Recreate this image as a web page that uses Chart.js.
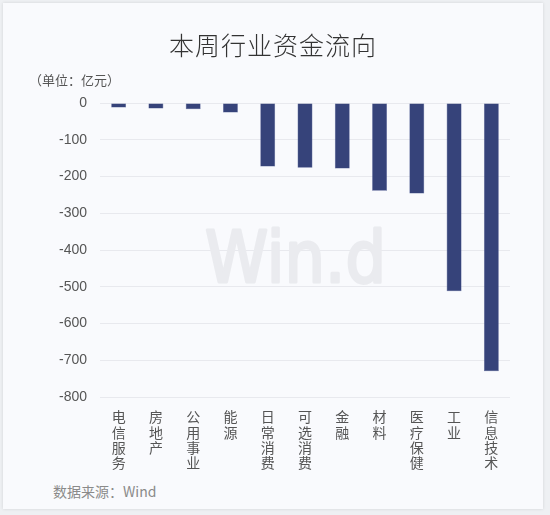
<!DOCTYPE html>
<html>
<head>
<meta charset="utf-8">
<script src="https://cdn.jsdelivr.net/npm/chart.js@4.4.1/dist/chart.umd.min.js"></script>
<style>
  body { margin: 0; background: #eef0f3; }
  #panel {
    position: absolute; left: 3px; top: 3px; width: 540px; height: 506px;
    background: #f9fafd; box-shadow: 0 0 3px rgba(0,0,0,0.12);
    font-family: "Liberation Sans", "Noto Sans CJK SC", sans-serif;
  }
  #title {
    position: absolute; left: 0; width: 540px; top: 23px; text-align: center;
    font-family: "Noto Sans CJK SC", sans-serif; font-size: 25px; color: #333;
    font-weight: 300; letter-spacing: 1px;
  }
  #unit {
    position: absolute; left: 26px; top: 67px; font-size: 13px; color: #555;
    font-family: "Noto Sans CJK SC", sans-serif;
  }
  #source {
    position: absolute; left: 50px; top: 478px; font-size: 14px; color: #8a8a8a;
    font-family: "Noto Sans CJK SC", sans-serif;
  }
  #box { position: absolute; left: -3px; top: -3px; width: 543px; height: 480px; }
</style>
</head>
<body>
<div id="panel">
  <div id="box"><canvas id="flowChart"></canvas></div>
  <div id="title">本周行业资金流向</div>
  <div id="unit">（单位：亿元）</div>
  <div id="source">数据来源：Wind</div>
</div>
<script>
// ===============================
// DATA
// ===============================
const industries = ["电信服务", "房地产", "公用事业", "能源", "日常消费", "可选消费", "金融", "材料", "医疗保健", "工业", "信息技术"];
const flowValues = [-12, -15, -17, -26, -173, -176, -178, -239, -246, -512, -730];
const yTicks = [0, -100, -200, -300, -400, -500, -600, -700, -800];

const FONT = "'Liberation Sans', 'Noto Sans CJK SC', sans-serif";

// watermark behind the bars
const watermark = {
  id: "watermark",
  beforeDatasetsDraw(chart) {
    const ctx = chart.ctx;
    ctx.save();
    ctx.font = "72px 'DejaVu Sans', sans-serif";
    const w = ctx.measureText("Win.d").width;
    ctx.translate(205, 282);
    ctx.scale(181 / w, 1);
    ctx.fillStyle = "#eaebef";
    ctx.strokeStyle = "#eaebef";
    ctx.lineWidth = 3;
    ctx.lineJoin = "round";
    ctx.textBaseline = "alphabetic";
    ctx.strokeText("Win.d", 0, 0);
    ctx.fillText("Win.d", 0, 0);
    ctx.restore();
  },
};

new Chart(document.getElementById("flowChart"), {
  type: "bar",
  data: {
    // vertical text: one character per line
    labels: industries.map((s) => s.split("")),
    datasets: [
      {
        data: flowValues,
        backgroundColor: "#36437a",
        borderColor: "#4a5790",
        borderWidth: 0.5,
        barPercentage: 0.4,
        categoryPercentage: 1,
      },
    ],
  },
  options: {
    responsive: true,
    maintainAspectRatio: false,
    animation: false,
    layout: { padding: { top: 103, right: 33, bottom: 3, left: 0 } },
    plugins: {
      legend: { display: false },
      tooltip: { enabled: false },
    },
    scales: {
      x: {
        position: "bottom",
        grid: { display: false, drawTicks: false },
        border: { display: false },
        ticks: {
          color: "#555",
          font: { family: FONT, size: 14, lineHeight: 1.08 },
          padding: 14,
          maxRotation: 0,
          autoSkip: false,
        },
        afterFit(scale) { scale.height = 80; },
      },
      y: {
        min: -800,
        max: 0,
        afterBuildTicks(scale) {
          scale.ticks = yTicks.map((v) => ({ value: v }));
        },
        grid: { color: "#e8e9ee", drawTicks: false },
        border: { display: false },
        ticks: {
          color: "#555",
          font: { family: FONT, size: 14 },
          padding: 13,
        },
        afterFit(scale) { scale.width = 100; },
      },
    },
  },
  plugins: [watermark],
});
</script>
</body>
</html>
